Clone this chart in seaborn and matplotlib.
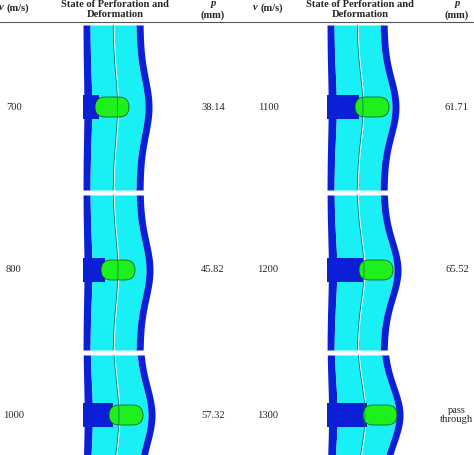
import matplotlib
matplotlib.use("Agg")
import matplotlib.pyplot as plt
import numpy as np
import seaborn as sns
from matplotlib.patches import FancyBboxPatch

sns.set_theme(style="white")
plt.rcParams["font.family"] = ["Liberation Serif", "DejaVu Serif"]

# table data
left_v = ["700", "800", "1000"]
left_p = ["38.14", "45.82", "57.32"]
right_v = ["1100", "1200", "1300"]
right_p = ["61.71", "65.52", "pass\nthrough"]
# read-off deformation: bulge (px) and projectile tip depth (px) per case
left_bulge = [9, 10, 12]
left_tip = [46, 52, 60]
right_bulge = [12, 14, 16]
right_tip = [62, 66, 70]

row_span = [(25, 190), (195, 350), (355, 470)]
row_mid = [107, 270, 415]

fig = plt.figure(figsize=(4.74, 4.55), dpi=100)
ax = fig.add_axes([0, 0, 1, 1])
ax.set_xlim(0, 474)
ax.set_ylim(455, 0)
ax.axis("off")

FS = 7.6
hdr = dict(fontsize=FS, fontweight="bold", ha="center", va="center")


def vhead(x):
    ax.text(x - 13, 8, "v", style="italic", **hdr)
    ax.text(x + 4, 8, "(m/s)", **hdr)


def phead(x):
    ax.text(x, 4, "p", style="italic", **hdr)
    ax.text(x, 15, "(mm)", **hdr)


vhead(14)
vhead(268)
phead(213)
phead(457)
ax.text(115, 9.5, "State of Perforation and\nDeformation", linespacing=1.05, **hdr)
ax.text(360, 9.5, "State of Perforation and\nDeformation", linespacing=1.05, **hdr)
ax.plot([0, 474], [22, 22], color="#555555", lw=0.8)

DARK = "#0a1fd6"
CYAN = "#19f0f5"
GREEN = "#1ef01e"


def plate(x0, yt, yb, yc, bulge, tip):
    y = np.linspace(yt, yb, 200)
    d = bulge * np.exp(-((y - yc) / 40.0) ** 2)
    d2 = bulge * 0.5 * np.exp(-((y - yc) / 45.0) ** 2)
    ax.fill_betweenx(y, x0 + d2 * 0.2, x0 + 7 + d2 * 0.4, color=DARK, lw=0)
    ax.fill_betweenx(y, x0 + 7 + d2 * 0.4, x0 + 30 + d2, color=CYAN, lw=0)
    ax.plot(x0 + 30 + d2, y, color="#0d6a6a", lw=0.5)
    ax.fill_betweenx(y, x0 + 31 + d2, x0 + 53 + d, color=CYAN, lw=0)
    ax.fill_betweenx(y, x0 + 53 + d, x0 + 60 + d, color=DARK, lw=0)
    # cavity and projectile
    rear = x0 + tip - 34
    ax.fill_between([x0, rear + 4], yc - 12, yc + 12, color=DARK, lw=0)
    ax.add_patch(FancyBboxPatch((rear, yc - 10), 34, 20,
                                boxstyle="round,pad=0,rounding_size=10",
                                fc=GREEN, ec="#0a4a0a", lw=0.5))


for i in range(3):
    yt, yb = row_span[i]
    yc = row_mid[i]
    ax.text(14, yc, left_v[i], fontsize=FS, ha="center", va="center")
    ax.text(213, yc, left_p[i], fontsize=FS, ha="center", va="center")
    ax.text(268, yc, right_v[i], fontsize=FS, ha="center", va="center")
    ax.text(457, yc, right_p[i], fontsize=FS, ha="center", va="center", linespacing=1.1)
    plate(83, yt, yb, yc, left_bulge[i], left_tip[i])
    plate(327, yt, yb, yc, right_bulge[i], right_tip[i])

fig.savefig("out.png", dpi=100)
